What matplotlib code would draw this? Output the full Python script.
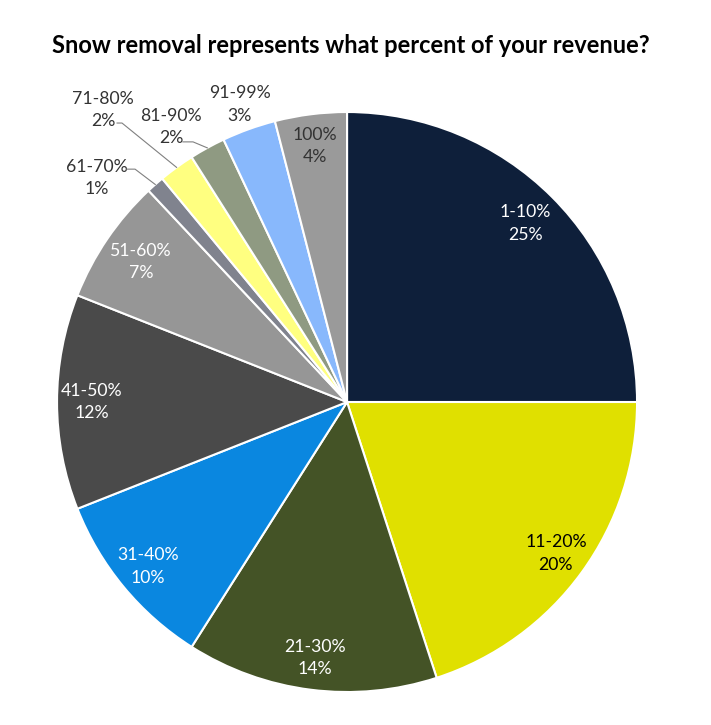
import numpy as np
import matplotlib.pyplot as plt

plt.rcParams['font.family'] = ['Lato', 'DejaVu Sans']

# data
categories = ['1-10%', '11-20%', '21-30%', '31-40%', '41-50%', '51-60%',
              '61-70%', '71-80%', '81-90%', '91-99%', '100%']
shares = [25, 20, 14, 10, 12, 7, 1, 2, 2, 3, 4]

colors = ['#0e1f3a', '#e0e000', '#445326', '#0a87e0', '#4a4a4a', '#969696',
          '#80838e', '#ffff80', '#8f9a82', '#88b8fc', '#9a9a9a']
text_colors = ['white', 'black', 'white', 'white', 'white', 'white',
               '#333333', '#333333', '#333333', '#333333', '#333333']
# label radius for inside labels (None -> outside with leader)
label_r = [0.87, 0.89, 0.89, 0.89, 0.88, 0.86, None, None, None, 1.09, 0.89]
# outside label positions and leader elbows (data coords)
outside_pos = {6: (-0.862, 0.772), 7: (-0.841, 1.007), 8: (-0.607, 0.948)}
leader_start = {6: (-0.759, 0.803), 7: (-0.793, 0.962), 8: (-0.566, 0.897)}
leader_elbow = {6: (-0.731, 0.803), 7: (-0.776, 0.962), 8: (-0.531, 0.897)}

fig = plt.figure(figsize=(7.11, 7.25), dpi=100)
ax = fig.add_axes([0.0802, 0.0455, 0.8158, 0.8])

wedges, _ = ax.pie(shares, colors=colors, startangle=90, counterclock=False,
                   wedgeprops=dict(edgecolor='white', linewidth=1.5))
ax.set_xlim(-1, 1)
ax.set_ylim(-1, 1)
ax.set_aspect('equal')

for i, w in enumerate(wedges):
    mid = np.deg2rad((w.theta1 + w.theta2) / 2)
    txt = f'{categories[i]}\n{shares[i]}%'
    if label_r[i] is not None:
        r = label_r[i]
        ax.text(r * np.cos(mid), r * np.sin(mid), txt, ha='center', va='center',
                fontsize=12.7, color=text_colors[i], linespacing=1.5)
    else:
        tx, ty = outside_pos[i]
        ax.text(tx, ty, txt, ha='center', va='center',
                fontsize=12.7, color=text_colors[i], linespacing=1.5)
        sx, sy = leader_start[i]
        bx, by = leader_elbow[i]
        ex, ey = 1.0 * np.cos(mid), 1.0 * np.sin(mid)
        ax.plot([sx, bx, ex], [sy, by, ey], color='#808080', lw=0.8,
                clip_on=False, zorder=3)

fig.text(0.494, 0.937, 'Snow removal represents what percent of your revenue?',
         ha='center', va='center', fontsize=17, fontweight='bold')

fig.savefig('out.png', dpi=100, facecolor='white')
